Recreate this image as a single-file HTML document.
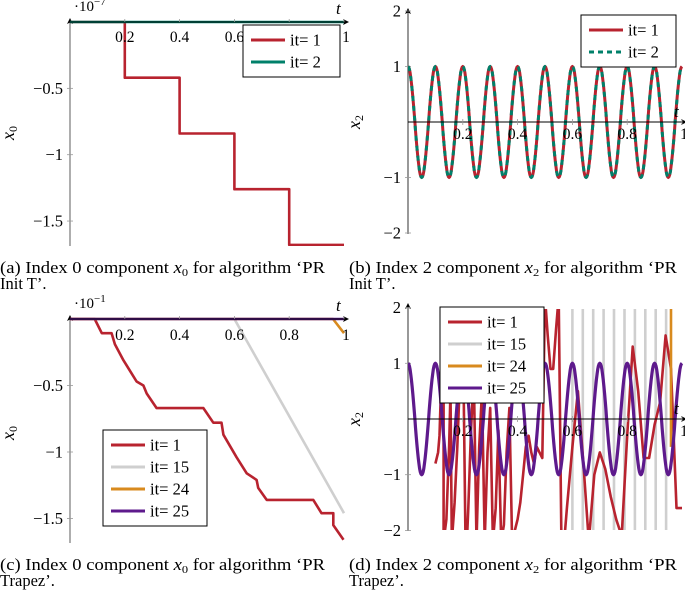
<!DOCTYPE html>
<html><head><meta charset="utf-8"><style>
body{margin:0;background:#fff}
svg{display:block}
svg text{font-family:"Liberation Serif","DejaVu Serif",serif}
</style></head><body>
<svg id="fig" width="685" height="590" viewBox="0 0 685 590" xmlns="http://www.w3.org/2000/svg" font-family="Liberation Serif, DejaVu Serif, serif">
<defs>
<clipPath id="ca"><rect x="70" y="18" width="276" height="228"/></clipPath>
<clipPath id="cb"><rect x="408" y="8" width="276" height="228"/></clipPath>
<clipPath id="cc"><rect x="70" y="315" width="276" height="230"/></clipPath>
<clipPath id="cd"><rect x="408" y="309" width="276" height="221"/></clipPath>
</defs>
<g id="root"></g>
<g font-size="16.5">
<text x="0" y="273" textLength="325" lengthAdjust="spacingAndGlyphs">(a) Index 0 component <tspan font-style="italic">x</tspan><tspan font-size="11" dy="3">0</tspan><tspan dy="-3"> for algorithm ‘PR</tspan></text>
<text x="0" y="289">Init T’.</text>
<text x="349" y="273" textLength="328" lengthAdjust="spacingAndGlyphs">(b) Index 2 component <tspan font-style="italic">x</tspan><tspan font-size="11" dy="3">2</tspan><tspan dy="-3"> for algorithm ‘PR</tspan></text>
<text x="349" y="289">Init T’.</text>
<text x="0" y="570" textLength="325" lengthAdjust="spacingAndGlyphs">(c) Index 0 component <tspan font-style="italic">x</tspan><tspan font-size="11" dy="3">0</tspan><tspan dy="-3"> for algorithm ‘PR</tspan></text>
<text x="0" y="586">Trapez’.</text>
<text x="349" y="570" textLength="328" lengthAdjust="spacingAndGlyphs">(d) Index 2 component <tspan font-style="italic">x</tspan><tspan font-size="11" dy="3">2</tspan><tspan dy="-3"> for algorithm ‘PR</tspan></text>
<text x="349" y="586">Trapez’.</text>
</g>
</svg>
<script>
// ---- data ----
const xTicks = [0.2, 0.4, 0.6, 0.8, 1];
const xTickLabels = ["0.2", "0.4", "0.6", "0.8", "1"];
const yTicksA = [-0.5, -1, -1.5];
const yTickLabelsA = ["\u22120.5", "\u22121", "\u22121.5"];
const yTicksB = [2, 1, -1, -2];
const yTickLabelsB = ["2", "1", "\u22121", "\u22122"];
// panel a: step function it=1 (units 1e-7)
const aIt1T = [0, 0.2, 0.2, 0.4, 0.4, 0.6, 0.6, 0.8, 0.8, 1];
const aIt1V = [0, 0, -0.42, -0.42, -0.84, -0.84, -1.26, -1.26, -1.68, -1.68];
const aIt2T = [0, 1];
const aIt2V = [0, 0];
// cosine series (panels b, d): period and amplitude
const cosPeriod = [0.1];
const cosAmp = [1];
// panel c (units 1e-1)
const cIt1T = [0, 0.09, 0.116, 0.152, 0.164, 0.195, 0.243, 0.268, 0.28, 0.316, 0.487, 0.523, 0.553, 0.56, 0.608, 0.645, 0.681, 0.687, 0.718, 0.888, 0.918, 0.961, 0.961, 0.998];
const cIt1V = [0, 0, -0.107, -0.107, -0.19, -0.31, -0.47, -0.5, -0.56, -0.67, -0.67, -0.78, -0.78, -0.87, -1.04, -1.16, -1.21, -1.27, -1.36, -1.36, -1.46, -1.46, -1.55, -1.66];
const cIt15T = [0, 0.6, 1];
const cIt15V = [0, 0, -1.46];
const cIt24T = [0, 0.96, 1];
const cIt24V = [0, 0, -0.107];
const cIt25T = [0, 1];
const cIt25V = [0, 0];
// panel d
const dIt1T = [0.1,0.11,0.115,0.12,0.13,0.13,0.14,0.15,0.155,0.16,0.17,0.18,0.19,0.2,0.21,0.215,0.22,0.23,0.24,0.25,0.26,0.27,0.28,0.29,0.3,0.31,0.32,0.33,0.34,0.35,0.36,0.37,0.38,0.4,0.41,0.42,0.43,0.44,0.45,0.46,0.47,0.48,0.49,0.5,0.51,0.52,0.53,0.54,0.55,0.56,0.57,0.58,0.6,0.62,0.64,0.66,0.68,0.7,0.72,0.74,0.76,0.78,0.8,0.82,0.84,0.86,0.88,0.9,0.92,0.94,0.95,0.96,0.98,1];
const dIt1V = [-0.8,-0.6,-0.3,0.5,0.6,-2.2,-1.8,-0.5,0.5,-2.2,-1.5,-0.5,0.8,1.8,-2.2,-2.2,-1.6,-0.2,0.8,-2.2,-0.5,0.5,-2.2,-0.6,0.2,-2.2,-1.6,-0.2,-2.2,-1.9,-0.6,0.2,-2.2,-1.8,-1.5,-1.0,-0.5,-0.3,-0.6,-0.8,-0.5,-0.6,-0.7,2.2,1.5,0.9,0.9,1.6,2.2,-2.2,-2.2,-1.6,-0.5,0.5,-0.8,-2.2,-1.0,-0.6,-0.9,-1.4,-1.8,-2.1,-0.3,1.3,0.5,-0.7,-0.7,-0.1,0.3,1.5,1.2,0.9,-1.6,-1.6];
const dIt15T = [0.6, 0.638, 0.676, 0.714, 0.752, 0.79, 0.828, 0.866, 0.904, 0.942];
const dIt24T = [0.96, 0.96];
const dIt24V = [-0.5, 2.2];

const NS = "http://www.w3.org/2000/svg";
const root = document.getElementById("root");
function el(tag, attrs, parent) {
  const e = document.createElementNS(NS, tag);
  for (const k in attrs) e.setAttribute(k, attrs[k]);
  (parent || root).appendChild(e);
  return e;
}
const RED = "#b8232f", GREEN = "#00806a", GRAY = "#cfcfcf", ORANGE = "#d88a1e", PURPLE = "#5e1a8c";

function panel(name, px0, px1, y0, yScale, clip) {
  const g = el("g", {});
  
  
  const sx = t => px0 + t * (px1 - px0);
  const sy = v => y0 - v * yScale;
  return {g, sx, sy, clip};
}
function line(P, ts, vs, color, w, name, dash) {
  const pts = ts.map((t, i) => P.sx(t).toFixed(1) + "," + P.sy(vs[i]).toFixed(1)).join(" ");
  const pl = el("polyline", {points: pts, fill: "none", stroke: color, "stroke-width": w, "clip-path": "url(#" + P.clip + ")", "stroke-linejoin": "round"}, P.g);
  if (dash) pl.setAttribute("stroke-dasharray", dash);
  
  
}
function cosLine(P, color, w, name, dash) {
  const ts = [], vs = [];
  for (let i = 0; i <= 400; i++) { const t = i / 400; ts.push(t); vs.push(cosAmp[0] * Math.cos(2 * Math.PI * t / cosPeriod[0])); }
  line(P, ts, vs, color, w, name, dash);
}
function xAxis(P, yAxisPix, labelY, tLabelY, tickUp) {
  const ax = el("line", {x1: P.sx(0), y1: yAxisPix, x2: P.sx(1) + 2, y2: yAxisPix, stroke: "#000", "stroke-width": 1}, P.g);
  
  
  const ah = el("path", {d: `M${P.sx(1)+5},${yAxisPix} l-6,-3 l1.5,3 l-1.5,3z`, fill: "#000"}, P.g);
  
  
  xTicks.forEach((t, i) => {
    const tk = el("line", {x1: P.sx(t), x2: P.sx(t), y1: yAxisPix - 3, y2: yAxisPix + (tickUp ? 0 : 3), stroke: "#999", "stroke-width": 0.8}, P.g);
    
    
    const tx = el("text", {x: P.sx(t) - (i == 4 ? -2 : 0), y: labelY, "font-size": 15.5, "text-anchor": "middle"}, P.g);
    tx.textContent = xTickLabels[i];
    
    
  });
  const tl = el("text", {x: P.sx(1) - 8, y: tLabelY, "font-size": 17, "font-style": "italic"}, P.g);
  tl.textContent = "t";
  
  
}
function yAxis(P, top, bottom, ticks, labels, color) {
  const ax = el("line", {x1: P.sx(0), y1: bottom, x2: P.sx(0), y2: top + 2, stroke: color, "stroke-width": 1.2}, P.g);
  
  
  const ah = el("path", {d: `M${P.sx(0)},${top-2} l-3,6 l3,-1.5 l3,1.5z`, fill: "#000"}, P.g);
  
  
  ticks.forEach((v, i) => {
    const tk = el("line", {x1: P.sx(0) - 3, x2: P.sx(0) + 3, y1: P.sy(v), y2: P.sy(v), stroke: "#999", "stroke-width": 0.8}, P.g);
    
    
    const tx = el("text", {x: P.sx(0) - 7, y: P.sy(v) + 5.5, "font-size": 16.5, "text-anchor": "end"}, P.g);
    tx.textContent = labels[i];
    
    
  });
}
function yTitle(P, x, y, sub) {
  const t = el("text", {x: 0, y: 0, "font-size": 18, "font-style": "italic", transform: `translate(${x},${y}) rotate(-90)`, "text-anchor": "middle"}, P.g);
  t.innerHTML = 'x<tspan font-size="12" font-style="normal" dy="3">' + sub + '</tspan>';
  
  
}
function expo(P, x, y, e) {
  const t = el("text", {x: x, y: y, "font-size": 15}, P.g);
  t.innerHTML = '·10<tspan font-size="11" dy="-6">\u2212' + e + '</tspan>';
  
  
}
function legend(P, x, y, w, rowH, items) {
  const lg = el("g", {}, P.g);
  
  
  const r = el("rect", {x: x, y: y, width: w, height: rowH * items.length + 8, fill: "#fff", stroke: "#000", "stroke-width": 1}, lg);
  
  
  items.forEach((it, i) => {
    const cy = y + 4 + rowH * (i + 0.5);
    const e = el("g", {}, lg);
    
    
    const ln = el("line", {x1: x + 8, x2: x + 42, y1: cy, y2: cy, stroke: it[1], "stroke-width": 3}, e);
    if (it[2]) ln.setAttribute("stroke-dasharray", it[2]);
    const tx = el("text", {x: x + 47, y: cy + 5.5, "font-size": 16.5}, e);
    tx.textContent = it[0];
  });
}

// Panel A
const A = panel("panel-a", 70, 344, 22, 132.7, "ca");
yAxis(A, 20, 246, yTicksA, yTickLabelsA, "#777");
line(A, aIt1T, aIt1V, RED, 2.6, "series-it1");
line(A, aIt2T, aIt2V, GREEN, 2.6, "series-it2");
xAxis(A, 22, 42, 14, true);
expo(A, 74, 11, 7);
yTitle(A, 14, 133, "0");
legend(A, 243, 25, 97, 22, [["it= 1", RED], ["it= 2", GREEN]]);

// Panel B
const B = panel("panel-b", 408, 682, 122, 55.5, "cb");
yAxis(B, 10, 234, yTicksB, yTickLabelsB, "#555");
line(B, [0, 1], [0, 0], "#000", 1, "zero-line");
cosLine(B, RED, 3, "series-it1");
cosLine(B, GREEN, 3, "series-it2", "5,5");
xAxis(B, 122, 139, 117, false);
yTitle(B, 360, 122, "2");
legend(B, 581, 15, 95, 22, [["it= 1", RED], ["it= 2", GREEN, "5,4"]]);

// Panel C
const C = panel("panel-c", 70, 344, 319, 133, "cc");
yAxis(C, 317, 543, yTicksA, yTickLabelsA, "#777");
line(C, cIt15T, cIt15V, GRAY, 2.6, "series-it15");
line(C, cIt1T, cIt1V, RED, 2.6, "series-it1");
line(C, cIt24T, cIt24V, ORANGE, 2.6, "series-it24");
line(C, cIt25T, cIt25V, PURPLE, 2.6, "series-it25");
xAxis(C, 319, 340, 311, true);
expo(C, 74, 308, 1);
yTitle(C, 14, 433, "0");
legend(C, 103, 430, 104, 22, [["it= 1", RED], ["it= 15", GRAY], ["it= 24", ORANGE], ["it= 25", PURPLE]]);

// Panel D
const D = panel("panel-d", 408, 682, 419, 55.7, "cd");
yAxis(D, 305, 531, yTicksB, yTickLabelsB, "#555");
dIt15T.forEach(t => line(D, [t, t], [-2.2, 2.2], GRAY, 2.6, "series-it15"));
line(D, dIt1T, dIt1V, RED, 2.6, "series-it1");
line(D, dIt24T, dIt24V, ORANGE, 2.6, "series-it24");
line(D, [0, 1], [0, 0], "#000", 1, "zero-line");
cosLine(D, PURPLE, 3.2, "series-it25");
xAxis(D, 419, 436, 414, false);
yTitle(D, 360, 419, "2");
legend(D, 440, 307, 104, 22, [["it= 1", RED], ["it= 15", GRAY], ["it= 24", ORANGE], ["it= 25", PURPLE]]);
</script>
</body></html>
